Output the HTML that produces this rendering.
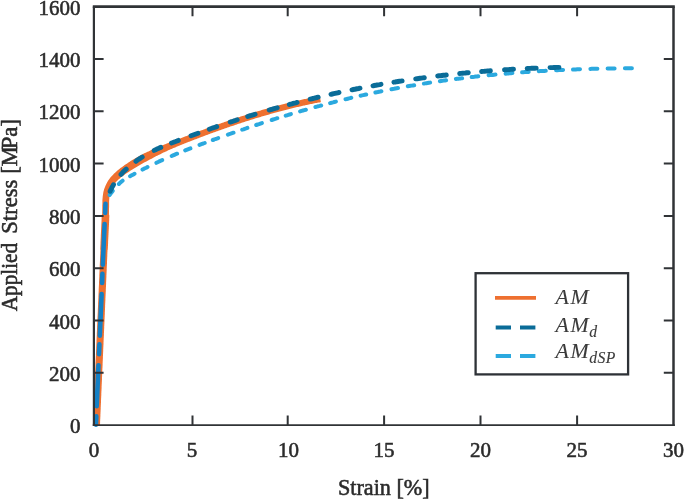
<!DOCTYPE html>
<html><head><meta charset="utf-8"><title>Stress-strain curves</title>
<style>html,body{margin:0;padding:0;background:#fff;}body{width:685px;height:500px;position:relative;overflow:hidden;font-family:"Liberation Serif",serif;}</style>
</head><body>
<svg width="685" height="500" viewBox="0 0 685 500" style="position:absolute;left:0;top:0;filter:blur(0.4px)">
<rect width="685" height="500" fill="#fff"/>
<path d="M100.0,425.2 L100.0,424.2 L100.1,423.2 L100.1,422.2 L100.1,421.2 L100.2,420.2 L100.2,419.2 L100.3,418.2 L100.3,417.2 L100.4,416.2 L100.4,415.2 L100.4,414.2 L100.5,413.2 L100.5,412.2 L100.6,411.2 L100.6,410.2 L100.7,409.2 L100.7,408.2 L100.7,407.2 L100.8,406.2 L100.8,405.2 L100.9,404.2 L100.9,403.2 L101.0,402.2 L101.0,401.2 L101.0,400.2 L101.1,399.2 L101.1,398.2 L101.2,397.2 L101.2,396.2 L101.3,395.2 L101.3,394.2 L101.3,393.2 L101.4,392.2 L101.4,391.2 L101.5,390.2 L101.5,389.2 L101.6,388.2 L101.6,387.2 L101.6,386.2 L101.7,385.2 L101.7,384.2 L101.8,383.2 L101.8,382.2 L101.9,381.2 L101.9,380.2 L102.0,379.2 L102.0,378.2 L102.0,377.2 L102.1,376.2 L102.1,375.2 L102.2,374.2 L102.2,373.2 L102.3,372.2 L102.3,371.2 L102.3,370.2 L102.4,369.2 L102.4,368.2 L102.5,367.2 L102.5,366.2 L102.6,365.2 L102.6,364.2 L102.6,363.2 L102.7,362.2 L102.7,361.2 L102.8,360.2 L102.8,359.2 L102.9,358.2 L102.9,357.2 L102.9,356.2 L103.0,355.2 L103.0,354.2 L103.1,353.2 L103.1,352.2 L103.2,351.2 L103.2,350.2 L103.2,349.2 L103.3,348.2 L103.3,347.2 L103.4,346.2 L103.4,345.2 L103.5,344.2 L103.5,343.2 L103.5,342.2 L103.6,341.2 L103.6,340.2 L103.7,339.2 L103.7,338.2 L103.8,337.2 L103.8,336.2 L103.9,335.2 L103.9,334.2 L103.9,333.2 L104.0,332.2 L104.0,331.2 L104.1,330.2 L104.1,329.2 L104.2,328.2 L104.2,327.2 L104.2,326.2 L104.3,325.2 L104.3,324.2 L104.4,323.2 L104.4,322.2 L104.5,321.3 L104.5,320.3 L104.5,319.3 L104.6,318.3 L104.6,317.3 L104.7,316.3 L104.7,315.3 L104.8,314.3 L104.8,313.3 L104.8,312.3 L104.9,311.3 L104.9,310.3 L105.0,309.3 L105.0,308.3 L105.1,307.3 L105.1,306.3 L105.1,305.3 L105.2,304.3 L105.2,303.3 L105.3,302.3 L105.3,301.3 L105.4,300.3 L105.4,299.3 L105.4,298.3 L105.5,297.3 L105.5,296.3 L105.6,295.3 L105.6,294.3 L105.7,293.3 L105.7,292.3 L105.8,291.3 L105.8,290.3 L105.8,289.3 L105.9,288.3 L105.9,287.3 L106.0,286.3 L106.0,285.3 L106.1,284.3 L106.1,283.3 L106.1,282.3 L106.2,281.3 L106.2,280.3 L106.3,279.3 L106.3,278.3 L106.4,277.3 L106.4,276.3 L106.4,275.3 L106.5,274.3 L106.5,273.3 L106.6,272.3 L106.6,271.3 L106.7,270.3 L106.7,269.3 L106.7,268.3 L106.8,267.3 L106.8,266.3 L106.9,265.3 L106.9,264.3 L107.0,263.3 L107.0,262.3 L107.0,261.3 L107.1,260.3 L107.1,259.3 L107.2,258.3 L107.2,257.3 L107.3,256.3 L107.3,255.3 L107.3,254.3 L107.4,253.3 L107.4,252.3 L107.5,251.3 L107.5,250.3 L107.8,249.3 L107.8,248.3 L107.9,247.3 L107.9,246.3 L108.0,245.3 L108.0,244.3 L108.1,243.3 L108.1,242.3 L108.1,241.3 L108.2,240.3 L108.2,239.3 L108.3,238.3 L108.3,237.4 L108.4,236.4 L108.4,235.4 L108.5,234.4 L108.5,233.4 L108.6,232.4 L108.6,231.4 L108.7,230.4 L108.7,229.4 L108.8,228.4 L108.8,227.4 L108.9,226.4 L108.9,225.4 L109.0,224.4 L109.0,223.4 L109.1,222.4 L109.1,221.4 L109.2,220.4 L109.2,219.3 L109.2,218.3 L109.3,217.3 L109.3,216.3 L109.3,215.3 L108.9,214.3 L109.0,213.3 L109.0,212.3 L109.0,211.3 L109.0,210.2 L109.0,209.2 L109.0,208.2 L109.1,207.2 L109.1,206.2 L109.1,205.2 L109.1,204.2 L109.1,203.3 L109.1,202.3 L109.1,201.3 L109.2,200.3 L109.2,199.4 L109.3,198.5 L109.4,197.6 L109.5,196.7 L109.6,195.8 L109.8,194.8 L110.0,193.9 L110.1,193.0 L110.3,192.2 L110.6,191.4 L110.9,190.6 L111.2,189.7 L111.6,188.9 L112.0,188.0 L112.3,187.2 L112.7,186.5 L113.2,185.7 L113.7,185.0 L114.1,184.3 L114.7,183.6 L115.2,182.9 L115.8,182.2 L116.4,181.5 L117.0,180.9 L117.7,180.2 L118.4,179.6 L119.1,179.0 L119.8,178.4 L120.5,177.8 L121.2,177.1 L122.0,176.5 L122.7,175.9 L123.5,175.4 L124.2,174.9 L125.0,174.3 L125.8,173.8 L126.6,173.3 L127.4,172.7 L128.2,172.2 L129.1,171.7 L129.9,171.1 L130.7,170.6 L131.5,170.1 L132.4,169.6 L133.2,169.1 L134.0,168.6 L134.9,168.0 L135.7,167.5 L136.6,167.0 L137.4,166.5 L138.2,166.0 L139.1,165.5 L139.9,165.1 L140.8,164.6 L141.6,164.1 L142.5,163.6 L143.3,163.1 L144.2,162.6 L145.1,162.1 L145.9,161.7 L146.8,161.2 L147.6,160.7 L148.5,160.3 L149.4,159.8 L150.2,159.3 L151.1,158.9 L152.0,158.4 L152.8,157.9 L153.7,157.5 L154.6,157.0 L155.5,156.6 L156.3,156.1 L157.2,155.7 L158.1,155.2 L159.0,154.8 L159.9,154.4 L160.8,153.9 L161.6,153.5 L162.5,153.1 L163.4,152.6 L164.3,152.2 L165.2,151.8 L166.1,151.4 L167.0,151.0 L167.9,150.5 L168.8,150.1 L169.7,149.7 L170.6,149.3 L171.5,148.9 L172.5,148.5 L173.4,148.1 L174.3,147.7 L175.2,147.4 L176.1,147.0 L177.0,146.6 L177.9,146.2 L178.9,145.8 L179.8,145.4 L180.7,145.1 L181.6,144.7 L182.6,144.3 L183.5,143.9 L184.4,143.6 L185.3,143.2 L186.3,142.8 L187.2,142.5 L188.1,142.1 L189.0,141.7 L190.0,141.4 L190.9,141.0 L191.8,140.7 L192.8,140.3 L193.7,139.9 L194.6,139.6 L195.6,139.2 L196.5,138.9 L197.4,138.5 L198.4,138.2 L199.3,137.8 L200.2,137.4 L201.2,137.1 L202.1,136.7 L203.0,136.4 L204.0,136.0 L204.9,135.7 L205.8,135.3 L206.8,135.0 L207.7,134.7 L208.6,134.3 L209.6,134.0 L210.5,133.6 L211.4,133.3 L212.4,132.9 L213.3,132.6 L214.3,132.3 L215.2,131.9 L216.1,131.6 L217.1,131.3 L218.0,130.9 L218.9,130.6 L219.9,130.2 L220.8,129.9 L221.8,129.6 L222.7,129.3 L223.6,128.9 L224.6,128.6 L225.5,128.3 L226.5,127.9 L227.4,127.6 L228.4,127.3 L229.3,127.0 L230.2,126.6 L231.2,126.3 L232.1,126.0 L233.1,125.7 L234.0,125.4 L235.0,125.0 L235.9,124.7 L236.8,124.4 L237.8,124.1 L238.7,123.8 L239.7,123.5 L240.6,123.2 L241.6,122.8 L242.5,122.5 L243.5,122.2 L244.4,121.9 L245.4,121.6 L246.3,121.3 L247.3,121.0 L248.2,120.7 L249.2,120.4 L250.1,120.1 L251.1,119.8 L252.0,119.5 L253.0,119.2 L253.9,118.9 L254.9,118.6 L255.8,118.3 L256.8,118.0 L257.7,117.8 L258.7,117.5 L259.6,117.2 L260.6,116.9 L261.5,116.6 L262.5,116.3 L263.5,116.0 L264.4,115.8 L265.4,115.5 L266.3,115.2 L267.3,114.9 L268.2,114.7 L269.2,114.4 L270.1,114.1 L271.1,113.8 L272.1,113.6 L273.0,113.3 L274.0,113.0 L274.9,112.8 L275.9,112.5 L276.9,112.3 L277.8,112.0 L278.8,111.7 L279.7,111.5 L280.7,111.2 L281.7,111.0 L282.6,110.7 L283.6,110.5 L284.6,110.2 L285.5,110.0 L286.5,109.7 L287.4,109.5 L288.4,109.2 L289.4,109.0 L290.3,108.8 L291.3,108.5 L292.3,108.3 L293.2,108.0 L294.2,107.8 L295.2,107.6 L296.1,107.3 L297.1,107.1 L298.1,106.9 L299.0,106.7 L300.0,106.4 L301.0,106.2 L302.0,106.0 L302.9,105.8 L303.9,105.6 L304.9,105.4 L305.8,105.1 L306.8,104.9 L307.8,104.7 L308.8,104.5 L309.7,104.3 L310.7,104.1 L311.7,103.9 L312.7,103.7 L313.6,103.5 L314.6,103.3 L315.6,103.1 L316.5,102.9 L317.5,102.8 L318.5,102.6 L319.5,102.4 L320.5,102.2 L320.9,102.1 L319.7,96.0 L319.3,96.1 L318.3,96.3 L317.3,96.5 L316.4,96.7 L315.4,96.9 L314.4,97.0 L313.4,97.2 L312.4,97.4 L311.4,97.6 L310.4,97.8 L309.4,98.0 L308.5,98.3 L307.5,98.5 L306.5,98.7 L305.5,98.9 L304.5,99.1 L303.5,99.3 L302.6,99.5 L301.6,99.7 L300.6,100.0 L299.6,100.2 L298.6,100.4 L297.7,100.6 L296.7,100.9 L295.7,101.1 L294.7,101.3 L293.7,101.5 L292.8,101.8 L291.8,102.0 L290.8,102.3 L289.8,102.5 L288.9,102.7 L287.9,103.0 L286.9,103.2 L285.9,103.5 L285.0,103.7 L284.0,104.0 L283.0,104.2 L282.0,104.5 L281.1,104.7 L280.1,105.0 L279.1,105.2 L278.1,105.5 L277.2,105.7 L276.2,106.0 L275.2,106.3 L274.3,106.5 L273.3,106.8 L272.3,107.1 L271.4,107.3 L270.4,107.6 L269.4,107.9 L268.5,108.1 L267.5,108.4 L266.5,108.7 L265.6,109.0 L264.6,109.3 L263.6,109.5 L262.7,109.8 L261.7,110.1 L260.7,110.4 L259.8,110.7 L258.8,111.0 L257.9,111.2 L256.9,111.5 L255.9,111.8 L255.0,112.1 L254.0,112.4 L253.0,112.7 L252.1,113.0 L251.1,113.3 L250.2,113.6 L249.2,113.9 L248.3,114.2 L247.3,114.5 L246.3,114.8 L245.4,115.1 L244.4,115.4 L243.5,115.7 L242.5,116.0 L241.6,116.3 L240.6,116.6 L239.7,117.0 L238.7,117.3 L237.7,117.6 L236.8,117.9 L235.8,118.2 L234.9,118.5 L233.9,118.8 L233.0,119.2 L232.0,119.5 L231.1,119.8 L230.1,120.1 L229.2,120.4 L228.2,120.8 L227.3,121.1 L226.3,121.4 L225.4,121.8 L224.4,122.1 L223.5,122.4 L222.5,122.7 L221.6,123.1 L220.6,123.4 L219.7,123.7 L218.8,124.1 L217.8,124.4 L216.9,124.7 L215.9,125.1 L215.0,125.4 L214.0,125.8 L213.1,126.1 L212.1,126.4 L211.2,126.8 L210.3,127.1 L209.3,127.5 L208.4,127.8 L207.4,128.1 L206.5,128.5 L205.6,128.8 L204.6,129.2 L203.7,129.5 L202.7,129.9 L201.8,130.2 L200.8,130.6 L199.9,130.9 L199.0,131.3 L198.0,131.6 L197.1,132.0 L196.2,132.3 L195.2,132.7 L194.3,133.0 L193.3,133.4 L192.4,133.7 L191.5,134.1 L190.5,134.5 L189.6,134.8 L188.7,135.2 L187.7,135.5 L186.8,135.9 L185.8,136.2 L184.9,136.6 L184.0,136.9 L183.0,137.3 L182.1,137.7 L181.2,138.0 L180.2,138.4 L179.3,138.7 L178.3,139.1 L177.4,139.5 L176.5,139.8 L175.5,140.2 L174.6,140.5 L173.7,140.9 L172.7,141.3 L171.8,141.6 L170.8,142.0 L169.9,142.3 L169.0,142.7 L168.0,143.1 L167.1,143.4 L166.2,143.8 L165.2,144.2 L164.3,144.6 L163.3,144.9 L162.4,145.3 L161.5,145.7 L160.5,146.1 L159.6,146.5 L158.7,146.9 L157.7,147.2 L156.8,147.6 L155.9,148.0 L154.9,148.4 L154.0,148.8 L153.1,149.3 L152.1,149.7 L151.2,150.1 L150.3,150.5 L149.4,150.9 L148.5,151.4 L147.5,151.8 L146.6,152.2 L145.7,152.7 L144.8,153.1 L143.9,153.6 L143.0,154.1 L142.1,154.5 L141.2,155.0 L140.3,155.5 L139.4,156.0 L138.5,156.5 L137.6,156.9 L136.7,157.5 L135.8,158.0 L134.9,158.5 L134.1,159.0 L133.2,159.5 L132.3,160.1 L131.5,160.6 L130.6,161.1 L129.7,161.7 L128.9,162.2 L128.0,162.8 L127.2,163.4 L126.3,163.9 L125.5,164.5 L124.6,165.1 L123.8,165.7 L123.0,166.3 L122.2,166.9 L121.3,167.5 L120.5,168.1 L119.7,168.7 L118.8,169.4 L118.0,170.1 L117.2,170.8 L116.4,171.5 L115.6,172.2 L114.8,172.9 L114.1,173.6 L113.3,174.4 L112.6,175.2 L111.8,175.9 L111.1,176.8 L110.4,177.6 L109.7,178.5 L109.0,179.4 L108.4,180.3 L107.8,181.2 L107.2,182.2 L106.7,183.2 L106.2,184.2 L105.7,185.2 L105.3,186.2 L104.9,187.2 L104.5,188.2 L104.1,189.3 L103.8,190.4 L103.5,191.6 L103.3,192.6 L103.1,193.7 L103.0,194.7 L102.8,195.7 L102.7,196.8 L102.6,197.9 L102.5,199.0 L102.4,200.1 L102.4,201.1 L102.4,202.1 L102.4,203.1 L102.4,204.2 L102.3,205.2 L102.3,206.2 L102.3,207.2 L102.3,208.2 L102.3,209.2 L102.3,210.2 L102.3,211.1 L102.3,212.1 L102.2,213.1 L102.2,214.1 L101.7,215.1 L101.7,216.1 L101.7,217.1 L101.6,218.1 L101.6,219.0 L101.6,220.0 L101.5,221.0 L101.5,222.0 L101.4,223.0 L101.4,224.0 L101.3,225.0 L101.3,226.0 L101.2,227.0 L101.2,228.0 L101.1,229.0 L101.1,230.0 L101.0,231.0 L101.0,232.0 L100.9,233.0 L100.9,234.0 L100.8,235.0 L100.8,236.0 L100.8,237.0 L100.7,238.0 L100.7,239.0 L100.6,240.0 L100.6,241.0 L100.5,242.0 L100.5,243.0 L100.5,244.0 L100.4,245.0 L100.4,246.0 L100.3,247.0 L100.3,248.0 L100.2,249.0 L100.4,250.0 L100.4,251.0 L100.3,252.0 L100.3,253.0 L100.3,254.0 L100.2,255.0 L100.2,256.0 L100.1,257.0 L100.1,258.0 L100.0,259.0 L100.0,260.0 L100.0,261.0 L99.9,262.0 L99.9,263.0 L99.8,264.0 L99.8,265.0 L99.7,266.0 L99.7,267.0 L99.6,268.0 L99.6,269.0 L99.6,270.0 L99.5,271.0 L99.5,272.0 L99.4,273.0 L99.4,274.0 L99.3,275.0 L99.3,276.0 L99.3,277.0 L99.2,278.0 L99.2,279.0 L99.1,280.0 L99.1,281.0 L99.0,282.0 L99.0,283.0 L99.0,284.0 L98.9,285.0 L98.9,286.0 L98.8,287.0 L98.8,288.0 L98.7,289.0 L98.7,290.0 L98.7,291.0 L98.6,292.0 L98.6,293.0 L98.5,294.0 L98.5,295.0 L98.4,296.0 L98.4,297.0 L98.4,298.0 L98.3,299.0 L98.3,300.0 L98.2,301.0 L98.2,302.0 L98.1,303.0 L98.1,304.0 L98.1,305.0 L98.0,306.0 L98.0,307.0 L97.9,308.0 L97.9,309.0 L97.8,310.0 L97.8,311.0 L97.8,312.0 L97.7,313.0 L97.7,314.0 L97.6,314.9 L97.6,315.9 L97.5,316.9 L97.5,317.9 L97.4,318.9 L97.4,319.9 L97.4,320.9 L97.3,321.9 L97.3,322.9 L97.2,323.9 L97.2,324.9 L97.1,325.9 L97.1,326.9 L97.1,327.9 L97.0,328.9 L97.0,329.9 L96.9,330.9 L96.9,331.9 L96.8,332.9 L96.8,333.9 L96.8,334.9 L96.7,335.9 L96.7,336.9 L96.6,337.9 L96.6,338.9 L96.5,339.9 L96.5,340.9 L96.5,341.9 L96.4,342.9 L96.4,343.9 L96.3,344.9 L96.3,345.9 L96.2,346.9 L96.2,347.9 L96.2,348.9 L96.1,349.9 L96.1,350.9 L96.0,351.9 L96.0,352.9 L95.9,353.9 L95.9,354.9 L95.9,355.9 L95.8,356.9 L95.8,357.9 L95.7,358.9 L95.7,359.9 L95.6,360.9 L95.6,361.9 L95.5,362.9 L95.5,363.9 L95.5,364.9 L95.4,365.9 L95.4,366.9 L95.3,367.9 L95.3,368.9 L95.2,369.9 L95.2,370.9 L95.2,371.9 L95.1,372.9 L95.1,373.9 L95.0,374.9 L95.0,375.9 L94.9,376.9 L94.9,377.9 L94.9,378.9 L94.8,379.9 L94.8,380.9 L94.7,381.9 L94.7,382.9 L94.6,383.9 L94.6,384.9 L94.6,385.9 L94.5,386.9 L94.5,387.9 L94.4,388.9 L94.4,389.9 L94.3,390.9 L94.3,391.9 L94.3,392.9 L94.2,393.9 L94.2,394.9 L94.1,395.9 L94.1,396.9 L94.0,397.9 L94.0,398.9 L94.0,399.9 L93.9,400.9 L93.9,401.9 L93.8,402.9 L93.8,403.9 L93.7,404.9 L93.7,405.9 L93.7,406.9 L93.6,407.9 L93.6,408.9 L93.5,409.9 L93.5,410.9 L93.4,411.9 L93.4,412.9 L93.3,413.9 L93.3,414.9 L93.3,415.9 L93.2,416.9 L93.2,417.9 L93.1,418.9 L93.1,419.9 L93.0,420.9 L93.0,421.8 L93.0,422.8 L92.9,423.8 L92.9,424.8Z" fill="#EE7030" stroke="none"/>
<path d="M95.9,424.7 L96.3,416.3 M96.7,406.2 L98.5,365.2 M99.0,354.1 L99.4,344.3 M99.8,335.7 L101.6,294.0 M102.1,283.0 L102.4,273.9 M102.8,264.7 L104.6,224.0 M105.1,213.0 L105.5,203.9" fill="none" stroke="#1380C6" stroke-width="4.6" stroke-linecap="round"/>
<path d="M109.6,195.0 L110.4,194.0 L111.1,192.9 L111.9,191.9 L112.7,190.9 M118.9,184.0 L119.8,183.1 L120.7,182.3 L121.6,181.5 L122.6,180.7 M130.1,176.2 L131.2,175.6 L132.3,175.0 L133.4,174.4 L134.5,173.8 M142.5,169.6 L143.7,168.9 L145.0,168.3 L146.3,167.7 L147.5,167.0 M156.4,162.8 L157.6,162.2 L158.7,161.7 L159.9,161.2 L161.0,160.6 L162.2,160.1 M171.7,156.0 L173.0,155.4 L174.4,154.8 L175.8,154.2 L177.1,153.7 M185.2,150.4 L186.5,149.9 L187.8,149.4 L189.1,148.9 L190.4,148.4 M199.5,144.9 L200.8,144.4 L202.1,143.9 L203.4,143.5 L204.7,143.0 M212.8,140.0 L214.2,139.5 L215.5,139.0 L216.8,138.6 L218.2,138.1 M227.9,134.6 L229.3,134.1 L230.7,133.7 L232.1,133.2 L233.5,132.7 M242.2,129.7 L243.5,129.3 L244.8,128.8 L246.1,128.4 L247.4,127.9 M256.2,125.0 L257.6,124.5 L259.0,124.1 L260.4,123.6 L261.9,123.1 M271.7,120.0 L273.1,119.5 L274.5,119.1 L275.9,118.7 L277.3,118.2 M285.7,115.7 L287.0,115.3 L288.3,114.9 L289.6,114.5 L290.9,114.1 M300.1,111.4 L301.6,110.9 L303.0,110.5 L304.4,110.1 L305.9,109.7 M315.4,107.0 L316.9,106.6 L318.3,106.2 L319.7,105.9 L321.2,105.5 M330.1,103.1 L331.6,102.7 L333.0,102.4 L334.4,102.0 L335.9,101.6 M345.5,99.2 L346.6,99.0 L347.8,98.7 L349.0,98.4 L350.2,98.1 L351.3,97.8 M360.6,95.7 L362.0,95.4 L363.4,95.1 L364.8,94.8 L366.2,94.5 M375.4,92.5 L376.6,92.2 L377.8,92.0 L379.0,91.7 L380.2,91.5 L381.4,91.2 M391.5,89.3 L392.7,89.0 L394.0,88.8 L395.4,88.5 L396.7,88.3 L398.0,88.1 M407.8,86.3 L409.1,86.1 L410.4,85.8 L411.6,85.6 L412.9,85.4 L414.2,85.2 M423.9,83.6 L425.1,83.4 L426.4,83.2 L427.6,83.0 L428.9,82.8 L430.1,82.6 M439.9,81.2 L441.1,81.0 L442.4,80.8 L443.6,80.6 L444.9,80.5 L446.1,80.3 M455.9,79.0 L457.1,78.8 L458.4,78.7 L459.6,78.5 L460.9,78.4 L462.1,78.2 M471.7,77.1 L473.0,76.9 L474.3,76.8 L475.7,76.6 L477.0,76.5 L478.3,76.3 M488.6,75.3 L489.9,75.1 L491.3,75.0 L492.7,74.9 L494.1,74.7 L495.5,74.6 M505.6,73.7 L507.0,73.5 L508.3,73.4 L509.7,73.3 L511.0,73.2 L512.4,73.1 M522.1,72.3 L523.4,72.2 L524.7,72.1 L526.1,72.0 L527.4,72.0 L528.7,71.9 M538.8,71.2 L540.2,71.1 L541.6,71.0 L543.0,70.9 L544.4,70.9 L545.8,70.8 M556.1,70.2 L557.5,70.2 L558.9,70.1 L560.3,70.0 L561.7,70.0 L563.1,69.9 M573.0,69.5 L574.4,69.4 L575.8,69.4 L577.2,69.3 L578.6,69.3 L580.0,69.2 M590.4,68.9 L591.8,68.8 L593.2,68.8 L594.6,68.8 L596.0,68.7 L597.4,68.7 M607.6,68.5 L609.0,68.5 L610.4,68.4 L611.8,68.4 L613.2,68.4 L614.6,68.4 M624.9,68.2 L626.3,68.2 L627.7,68.2 L629.1,68.2 L630.5,68.2 L631.9,68.2" fill="none" stroke="#2BA9DF" stroke-width="4.0" stroke-linecap="round" stroke-linejoin="round"/>
<path d="M110.1,191.3 L110.7,189.9 L111.4,188.6 L112.0,187.3 L112.8,186.0 L113.5,184.7 M121.0,174.4 L122.0,173.3 L123.0,172.2 L124.0,171.1 L125.1,170.1 L126.2,169.1 M135.9,161.3 L136.9,160.5 L137.9,159.8 L139.0,159.1 L140.1,158.4 L141.1,157.7 L142.2,157.0 M154.2,150.4 L155.5,149.8 L156.8,149.1 L158.2,148.5 L159.5,147.9 L160.8,147.4 M171.5,143.0 L172.9,142.5 L174.2,142.0 L175.6,141.5 L176.9,141.0 L178.3,140.4 M191.0,135.7 L192.4,135.2 L193.8,134.7 L195.2,134.2 L196.6,133.7 L198.0,133.2 M209.3,129.2 L210.6,128.7 L211.8,128.3 L213.0,127.9 L214.2,127.5 L215.4,127.1 L216.7,126.6 M230.2,122.1 L231.6,121.7 L233.0,121.2 L234.4,120.7 L235.8,120.3 L237.2,119.8 M247.7,116.5 L248.9,116.1 L250.2,115.7 L251.4,115.4 L252.6,115.0 L253.9,114.6 L255.1,114.2 M269.2,110.1 L270.5,109.7 L271.9,109.3 L273.2,108.9 L274.5,108.5 L275.9,108.2 L277.2,107.8 M289.3,104.5 L290.6,104.1 L291.9,103.8 L293.2,103.4 L294.5,103.1 L295.8,102.8 L297.1,102.4 M310.2,99.1 L311.5,98.8 L312.9,98.5 L314.2,98.2 L315.5,97.8 L316.9,97.5 L318.2,97.2 M331.0,94.3 L332.3,94.0 L333.7,93.7 L335.0,93.4 L336.3,93.1 L337.7,92.8 L339.0,92.5 M352.0,89.8 L353.3,89.5 L354.7,89.3 L356.0,89.0 L357.3,88.7 L358.7,88.5 L360.0,88.2 M373.0,85.8 L374.3,85.5 L375.7,85.3 L377.0,85.0 L378.3,84.8 L379.7,84.6 L381.0,84.3 M393.9,82.2 L395.2,82.0 L396.6,81.7 L398.0,81.5 L399.4,81.3 L400.8,81.1 L402.1,80.9 M415.7,78.9 L417.1,78.7 L418.6,78.5 L420.0,78.3 L421.4,78.1 L422.9,77.9 L424.3,77.7 M437.7,76.0 L439.1,75.8 L440.6,75.7 L442.0,75.5 L443.4,75.3 L444.9,75.2 L446.3,75.0 M459.7,73.5 L461.2,73.4 L462.6,73.2 L464.0,73.1 L465.4,73.0 L466.8,72.8 L468.3,72.7 M481.6,71.5 L483.1,71.4 L484.5,71.3 L486.0,71.1 L487.5,71.0 L488.9,70.9 L490.4,70.8 M504.5,69.8 L505.8,69.7 L507.1,69.6 L508.4,69.6 L509.6,69.5 L510.9,69.4 L512.2,69.3 L513.5,69.2 M527.2,68.5 L528.7,68.4 L530.2,68.4 L531.7,68.3 L533.2,68.2 L534.7,68.2 L536.2,68.1 M550.0,67.6 L551.3,67.6 L552.6,67.6 L553.9,67.5 L555.1,67.5 L556.4,67.4 L557.7,67.4 L559.0,67.4" fill="none" stroke="#0A6C98" stroke-width="4.9" stroke-linecap="round" stroke-linejoin="round"/>
<path d="M92.8,6.6 H674.8" stroke="#303336" stroke-width="2.7" fill="none"/>
<path d="M673.5,6.6 V426.1" stroke="#303336" stroke-width="2.5" fill="none"/>
<path d="M93.9,6.6 V426.1" stroke="#303336" stroke-width="2.2" fill="none"/>
<path d="M92.8,425.1 H674.8" stroke="#303336" stroke-width="1.9" fill="none"/>
<path d="M192.5,425.1 v-9.7 M192.5,6.6 v9.7" stroke="#303336" stroke-width="2" fill="none"/>
<path d="M287.7,425.1 v-9.7 M287.7,6.6 v9.7" stroke="#303336" stroke-width="2" fill="none"/>
<path d="M384.1,425.1 v-9.7 M384.1,6.6 v9.7" stroke="#303336" stroke-width="2" fill="none"/>
<path d="M480.5,425.1 v-9.7 M480.5,6.6 v9.7" stroke="#303336" stroke-width="2" fill="none"/>
<path d="M577.1,425.1 v-9.7 M577.1,6.6 v9.7" stroke="#303336" stroke-width="2" fill="none"/>
<path d="M93.9,372.8 h9.7 M673.5,372.8 h-9.7" stroke="#303336" stroke-width="2" fill="none"/>
<path d="M93.9,320.5 h9.7 M673.5,320.5 h-9.7" stroke="#303336" stroke-width="2" fill="none"/>
<path d="M93.9,268.2 h9.7 M673.5,268.2 h-9.7" stroke="#303336" stroke-width="2" fill="none"/>
<path d="M93.9,215.9 h9.7 M673.5,215.9 h-9.7" stroke="#303336" stroke-width="2" fill="none"/>
<path d="M93.9,163.5 h9.7 M673.5,163.5 h-9.7" stroke="#303336" stroke-width="2" fill="none"/>
<path d="M93.9,111.2 h9.7 M673.5,111.2 h-9.7" stroke="#303336" stroke-width="2" fill="none"/>
<path d="M93.9,58.9 h9.7 M673.5,58.9 h-9.7" stroke="#303336" stroke-width="2" fill="none"/>
<text x="93.9" y="456.5" text-anchor="middle" font-family="'Liberation Serif', serif" stroke="#2b2b2b" stroke-width="0.55" font-size="21" fill="#2b2b2b">0</text>
<text x="192.1" y="456.5" text-anchor="middle" font-family="'Liberation Serif', serif" stroke="#2b2b2b" stroke-width="0.55" font-size="21" fill="#2b2b2b">5</text>
<text x="288.6" y="456.5" text-anchor="middle" font-family="'Liberation Serif', serif" stroke="#2b2b2b" stroke-width="0.55" font-size="21" fill="#2b2b2b">10</text>
<text x="383.9" y="456.5" text-anchor="middle" font-family="'Liberation Serif', serif" stroke="#2b2b2b" stroke-width="0.55" font-size="21" fill="#2b2b2b">15</text>
<text x="480.4" y="456.5" text-anchor="middle" font-family="'Liberation Serif', serif" stroke="#2b2b2b" stroke-width="0.55" font-size="21" fill="#2b2b2b">20</text>
<text x="577.0" y="456.5" text-anchor="middle" font-family="'Liberation Serif', serif" stroke="#2b2b2b" stroke-width="0.55" font-size="21" fill="#2b2b2b">25</text>
<text x="673.5" y="456.5" text-anchor="middle" font-family="'Liberation Serif', serif" stroke="#2b2b2b" stroke-width="0.55" font-size="21" fill="#2b2b2b">30</text>
<text x="80.5" y="433.2" text-anchor="end" font-family="'Liberation Serif', serif" stroke="#2b2b2b" stroke-width="0.55" font-size="21" fill="#2b2b2b">0</text>
<text x="80.5" y="380.9" text-anchor="end" font-family="'Liberation Serif', serif" stroke="#2b2b2b" stroke-width="0.55" font-size="21" fill="#2b2b2b">200</text>
<text x="80.5" y="328.6" text-anchor="end" font-family="'Liberation Serif', serif" stroke="#2b2b2b" stroke-width="0.55" font-size="21" fill="#2b2b2b">400</text>
<text x="80.5" y="276.3" text-anchor="end" font-family="'Liberation Serif', serif" stroke="#2b2b2b" stroke-width="0.55" font-size="21" fill="#2b2b2b">600</text>
<text x="80.5" y="224.0" text-anchor="end" font-family="'Liberation Serif', serif" stroke="#2b2b2b" stroke-width="0.55" font-size="21" fill="#2b2b2b">800</text>
<text x="80.5" y="171.6" text-anchor="end" font-family="'Liberation Serif', serif" stroke="#2b2b2b" stroke-width="0.55" font-size="21" fill="#2b2b2b">1000</text>
<text x="80.5" y="119.3" text-anchor="end" font-family="'Liberation Serif', serif" stroke="#2b2b2b" stroke-width="0.55" font-size="21" fill="#2b2b2b">1200</text>
<text x="80.5" y="67.0" text-anchor="end" font-family="'Liberation Serif', serif" stroke="#2b2b2b" stroke-width="0.55" font-size="21" fill="#2b2b2b">1400</text>
<text x="80.5" y="14.7" text-anchor="end" font-family="'Liberation Serif', serif" stroke="#2b2b2b" stroke-width="0.55" font-size="21" fill="#2b2b2b">1600</text>
<text x="383.8" y="495" text-anchor="middle" font-family="'Liberation Serif', serif" stroke="#2b2b2b" stroke-width="0.55" font-size="22.2" fill="#2b2b2b">Strain [%]</text>
<text transform="translate(16.7,311.2) rotate(-90)" x="0" y="0" textLength="68.3" lengthAdjust="spacingAndGlyphs" font-family="'Liberation Serif', serif" stroke="#2b2b2b" stroke-width="0.55" font-size="22.3" fill="#2b2b2b">Applied</text>
<text transform="translate(16.7,233.7) rotate(-90)" x="0" y="0" textLength="54.0" lengthAdjust="spacingAndGlyphs" font-family="'Liberation Serif', serif" stroke="#2b2b2b" stroke-width="0.55" font-size="22.3" fill="#2b2b2b">Stress</text>
<text transform="translate(16.7,173.7) rotate(-90)" x="0" y="0" textLength="54.6" lengthAdjust="spacingAndGlyphs" font-family="'Liberation Serif', serif" stroke="#2b2b2b" stroke-width="0.55" font-size="22.3" fill="#2b2b2b">[M<tspan dx="-3">Pa]</tspan></text>
<rect x="475.6" y="273.2" width="152.5" height="101.2" fill="#fff" stroke="#2e3237" stroke-width="2.3"/>
<path d="M495,297.9 H536" stroke="#EE7030" stroke-width="3.6" fill="none"/>
<path d="M495.7,327.5 H511 M520,327.5 H535.4" stroke="#0A6C98" stroke-width="3.8" fill="none"/>
<path d="M495.7,356 H511 M520,356 H535.4" stroke="#2BA9DF" stroke-width="3.8" fill="none"/>
<text x="555.5" y="303.7" font-family="'Liberation Serif', serif" stroke="#3a3a3a" stroke-width="0.1" font-style="italic" letter-spacing="1.6" font-size="21.8" fill="#3a3a3a">AM</text>
<text x="555.5" y="331.9" font-family="'Liberation Serif', serif" stroke="#3a3a3a" stroke-width="0.1" font-style="italic" letter-spacing="1.6" font-size="21.8" fill="#3a3a3a">AM<tspan font-size="15.7" dy="5" dx="-0.8" letter-spacing="0.3">d</tspan></text>
<text x="555.5" y="357.9" font-family="'Liberation Serif', serif" stroke="#3a3a3a" stroke-width="0.1" font-style="italic" letter-spacing="1.6" font-size="21.8" fill="#3a3a3a">AM<tspan font-size="15.7" dy="5" dx="-0.8" letter-spacing="0.3">dSP</tspan></text>
</svg>
</body></html>
